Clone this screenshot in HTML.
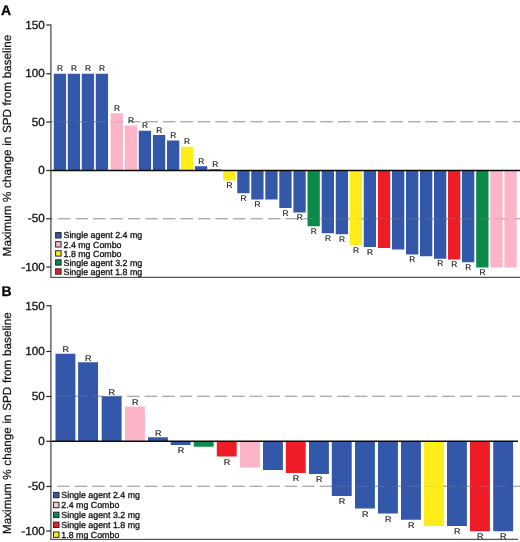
<!DOCTYPE html>
<html><head><meta charset="utf-8"><title>Figure</title>
<style>
html,body{margin:0;padding:0;background:#fff}
svg{display:block}
text{font-family:"Liberation Sans",sans-serif;fill:#111;stroke:#111;stroke-width:0.3px;text-rendering:geometricPrecision}
.r{font-size:8.4px;text-anchor:middle;stroke-width:0.12px}
.rb{font-size:8.3px;letter-spacing:0}
.t{font-size:11.7px;text-anchor:end}
.yl{font-size:11.7px;text-anchor:middle;letter-spacing:0.02px;word-spacing:0.35px;stroke-width:0.22px}
.pl{font-size:14px;font-weight:bold;fill:#000}
.lg{font-size:8.85px}
</style></head><body>
<svg width="520" height="542" viewBox="0 0 520 542">
<rect width="520" height="542" fill="#fff"/>
<g id="A">
<line x1="50.75" x2="520" y1="121.75" y2="121.75" stroke="#999" stroke-width="1" stroke-dasharray="12.5 5" stroke-dashoffset="10.3"/>
<line x1="50.75" x2="520" y1="218.75" y2="218.75" stroke="#999" stroke-width="1" stroke-dasharray="12.5 5" stroke-dashoffset="10.3"/>
<rect x="53.75" y="73.75" width="12.3" height="96.75" fill="#3458a9"/>
<text class="r" x="60.10" y="71.25">R</text>
<rect x="67.75" y="73.75" width="12.3" height="96.75" fill="#3458a9"/>
<text class="r" x="74.10" y="71.25">R</text>
<rect x="81.75" y="73.75" width="12.3" height="96.75" fill="#3458a9"/>
<text class="r" x="88.10" y="71.25">R</text>
<rect x="95.75" y="73.75" width="12.3" height="96.75" fill="#3458a9"/>
<text class="r" x="102.10" y="71.25">R</text>
<rect x="110.60" y="113.25" width="12.3" height="57.25" fill="#fcb4c8"/>
<text class="r" x="116.95" y="110.75">R</text>
<rect x="124.75" y="125.5" width="12.3" height="45.00" fill="#fcb4c8"/>
<text class="r" x="131.10" y="123.00">R</text>
<rect x="138.75" y="130.75" width="12.3" height="39.75" fill="#3458a9"/>
<text class="r" x="145.10" y="128.25">R</text>
<rect x="152.90" y="135" width="12.3" height="35.50" fill="#3458a9"/>
<text class="r" x="159.25" y="132.50">R</text>
<rect x="167.00" y="140.5" width="12.3" height="30.00" fill="#3458a9"/>
<text class="r" x="173.35" y="138.00">R</text>
<rect x="180.80" y="146.75" width="12.3" height="23.75" fill="#ffed1a"/>
<text class="r" x="187.15" y="144.25">R</text>
<rect x="195.00" y="166.25" width="12.3" height="4.25" fill="#3458a9"/>
<text class="r" x="201.35" y="163.75">R</text>
<rect x="209.00" y="169.25" width="12.3" height="1.25" fill="#3458a9"/>
<text class="r" x="215.35" y="166.75">R</text>
<rect x="223.20" y="170.5" width="12.3" height="10.00" fill="#ffed1a"/>
<text class="r" x="229.55" y="188.00">R</text>
<rect x="237.25" y="170.5" width="12.3" height="22.75" fill="#3458a9"/>
<text class="r" x="243.60" y="200.75">R</text>
<rect x="251.25" y="170.5" width="12.3" height="29.00" fill="#3458a9"/>
<text class="r" x="257.60" y="207.00">R</text>
<rect x="265.30" y="170.5" width="12.3" height="29.00" fill="#3458a9"/>
<rect x="279.30" y="170.5" width="12.3" height="37.50" fill="#3458a9"/>
<text class="r" x="285.65" y="215.50">R</text>
<rect x="293.40" y="170.5" width="12.3" height="42.00" fill="#3458a9"/>
<text class="r" x="299.75" y="220.00">R</text>
<rect x="307.50" y="170.5" width="12.3" height="55.75" fill="#0c8a49"/>
<text class="r" x="313.85" y="233.75">R</text>
<rect x="321.70" y="170.5" width="12.3" height="62.75" fill="#3458a9"/>
<text class="r" x="328.05" y="240.75">R</text>
<rect x="335.75" y="170.5" width="12.3" height="63.75" fill="#3458a9"/>
<text class="r" x="342.10" y="241.75">R</text>
<rect x="349.60" y="170.5" width="12.3" height="74.75" fill="#ffed1a"/>
<text class="r" x="355.95" y="252.75">R</text>
<rect x="363.75" y="170.5" width="12.3" height="76.50" fill="#3458a9"/>
<text class="r" x="370.10" y="254.50">R</text>
<rect x="377.90" y="170.5" width="12.3" height="77.50" fill="#ee1c26"/>
<rect x="392.00" y="170.5" width="12.3" height="79.00" fill="#3458a9"/>
<rect x="406.00" y="170.5" width="12.3" height="84.00" fill="#3458a9"/>
<text class="r" x="412.35" y="262.00">R</text>
<rect x="420.00" y="170.5" width="12.3" height="85.75" fill="#3458a9"/>
<rect x="434.00" y="170.5" width="12.3" height="88.25" fill="#3458a9"/>
<text class="r" x="440.35" y="266.25">R</text>
<rect x="448.00" y="170.5" width="12.3" height="89.00" fill="#ee1c26"/>
<text class="r" x="454.35" y="267.00">R</text>
<rect x="462.00" y="170.5" width="12.3" height="91.75" fill="#3458a9"/>
<text class="r" x="468.35" y="269.75">R</text>
<rect x="476.20" y="170.5" width="12.3" height="97.00" fill="#0c8a49"/>
<text class="r" x="482.55" y="275.00">R</text>
<rect x="490.30" y="170.5" width="12.3" height="97.00" fill="#fcb4c8"/>
<rect x="504.40" y="170.5" width="12.3" height="97.00" fill="#fcb4c8"/>
<line x1="50.75" x2="520" y1="121.75" y2="121.75" stroke="#999" stroke-opacity="0.28" stroke-width="1" stroke-dasharray="12.5 5" stroke-dashoffset="10.3"/>
<line x1="50.75" x2="520" y1="218.75" y2="218.75" stroke="#999" stroke-opacity="0.28" stroke-width="1" stroke-dasharray="12.5 5" stroke-dashoffset="10.3"/>
<line x1="50.9" x2="520" y1="170.4" y2="170.4" stroke="#0a0a0a" stroke-width="1.5"/>
<path d="M50.9 24.5V277.3H520" fill="none" stroke="#555" stroke-width="1.35"/>
<line x1="46.25" x2="50.9" y1="25" y2="25" stroke="#2a2a2a" stroke-width="1.2"/>
<text class="t" x="44.7" y="28.50">150</text>
<line x1="46.25" x2="50.9" y1="73.75" y2="73.75" stroke="#2a2a2a" stroke-width="1.2"/>
<text class="t" x="44.7" y="77.25">100</text>
<line x1="46.25" x2="50.9" y1="122" y2="122" stroke="#2a2a2a" stroke-width="1.2"/>
<text class="t" x="44.7" y="125.50">50</text>
<line x1="46.25" x2="50.9" y1="170.5" y2="170.5" stroke="#2a2a2a" stroke-width="1.2"/>
<text class="t" x="44.7" y="174.00">0</text>
<line x1="46.25" x2="50.9" y1="218.75" y2="218.75" stroke="#2a2a2a" stroke-width="1.2"/>
<text class="t" x="44.7" y="222.25">-50</text>
<line x1="46.25" x2="50.9" y1="267" y2="267" stroke="#2a2a2a" stroke-width="1.2"/>
<text class="t" x="44.7" y="270.50">-100</text>
<text class="yl" transform="translate(11.2,145.5) rotate(-90)">Maximum % change in SPD from baseline</text>
<text class="pl" x="0.9" y="15">A</text>
<rect x="52" y="229" width="92" height="47.3" fill="#fff"/>
<rect x="55.6" y="232.60" width="5.5" height="5.4" fill="#3458a9" stroke="#2a2a33" stroke-width="1"/>
<text class="lg" x="63.5" y="238.45">Single agent 2.4 mg</text>
<rect x="55.6" y="241.65" width="5.5" height="5.4" fill="#fcb4c8" stroke="#2a2a33" stroke-width="1"/>
<text class="lg" x="63.5" y="247.50">2.4 mg Combo</text>
<rect x="55.6" y="250.70" width="5.5" height="5.4" fill="#ffed1a" stroke="#2a2a33" stroke-width="1"/>
<text class="lg" x="63.5" y="256.55">1.8 mg Combo</text>
<rect x="55.6" y="259.75" width="5.5" height="5.4" fill="#0c8a49" stroke="#2a2a33" stroke-width="1"/>
<text class="lg" x="63.5" y="265.60">Single agent 3.2 mg</text>
<rect x="55.6" y="268.80" width="5.5" height="5.4" fill="#ee1c26" stroke="#2a2a33" stroke-width="1"/>
<text class="lg" x="63.5" y="274.65">Single agent 1.8 mg</text>
</g>
<g id="B">
<line x1="50.75" x2="520" y1="396.25" y2="396.25" stroke="#999" stroke-width="1" stroke-dasharray="12.5 5" stroke-dashoffset="11.0"/>
<line x1="50.75" x2="520" y1="486.25" y2="486.25" stroke="#999" stroke-width="1" stroke-dasharray="12.5 5" stroke-dashoffset="11.0"/>
<rect x="55.50" y="353.75" width="19.9" height="87.50" fill="#3458a9"/>
<text class="r" transform="translate(65.65 352.15) scale(1.08 1)">R</text>
<rect x="78.10" y="362.25" width="19.9" height="79.00" fill="#3458a9"/>
<text class="r" transform="translate(88.25 360.65) scale(1.08 1)">R</text>
<rect x="101.70" y="396.25" width="19.9" height="45.00" fill="#3458a9"/>
<text class="r" transform="translate(111.85 394.65) scale(1.08 1)">R</text>
<rect x="125.00" y="406.5" width="19.9" height="34.75" fill="#fcb4c8"/>
<text class="r" transform="translate(135.15 404.90) scale(1.08 1)">R</text>
<rect x="148.00" y="437.25" width="19.9" height="4.00" fill="#3458a9"/>
<text class="r" transform="translate(158.15 435.65) scale(1.08 1)">R</text>
<rect x="170.75" y="441.25" width="19.9" height="3.75" fill="#3458a9"/>
<text class="r" transform="translate(180.90 453.10) scale(1.08 1)">R</text>
<rect x="193.75" y="441.25" width="19.9" height="5.50" fill="#0c8a49"/>
<rect x="216.80" y="441.25" width="19.9" height="15.25" fill="#ee1c26"/>
<text class="r" transform="translate(226.95 464.60) scale(1.08 1)">R</text>
<rect x="240.00" y="441.25" width="19.9" height="26.25" fill="#fcb4c8"/>
<rect x="263.00" y="441.25" width="19.9" height="28.75" fill="#3458a9"/>
<rect x="285.80" y="441.25" width="19.9" height="31.75" fill="#ee1c26"/>
<text class="r" transform="translate(295.95 481.10) scale(1.08 1)">R</text>
<rect x="309.00" y="441.25" width="19.9" height="32.75" fill="#3458a9"/>
<text class="r" transform="translate(319.15 482.10) scale(1.08 1)">R</text>
<rect x="331.80" y="441.25" width="19.9" height="54.75" fill="#3458a9"/>
<text class="r" transform="translate(341.95 504.10) scale(1.08 1)">R</text>
<rect x="355.00" y="441.25" width="19.9" height="67.25" fill="#3458a9"/>
<text class="r" transform="translate(365.15 516.60) scale(1.08 1)">R</text>
<rect x="378.00" y="441.25" width="19.9" height="72.25" fill="#3458a9"/>
<text class="r" transform="translate(388.15 521.60) scale(1.08 1)">R</text>
<rect x="401.00" y="441.25" width="19.9" height="78.50" fill="#3458a9"/>
<text class="r" transform="translate(411.15 527.85) scale(1.08 1)">R</text>
<rect x="424.00" y="441.25" width="19.9" height="84.75" fill="#ffed1a"/>
<rect x="447.00" y="441.25" width="19.9" height="84.75" fill="#3458a9"/>
<text class="r" transform="translate(457.15 534.10) scale(1.08 1)">R</text>
<rect x="470.00" y="441.25" width="19.9" height="90.00" fill="#ee1c26"/>
<text class="r" transform="translate(480.15 539.35) scale(1.08 1)">R</text>
<rect x="493.20" y="441.25" width="19.9" height="90.00" fill="#3458a9"/>
<text class="r" transform="translate(503.35 539.35) scale(1.08 1)">R</text>
<line x1="50.75" x2="520" y1="396.25" y2="396.25" stroke="#999" stroke-opacity="0.28" stroke-width="1" stroke-dasharray="12.5 5" stroke-dashoffset="11.0"/>
<line x1="50.75" x2="520" y1="486.25" y2="486.25" stroke="#999" stroke-opacity="0.28" stroke-width="1" stroke-dasharray="12.5 5" stroke-dashoffset="11.0"/>
<line x1="50.9" x2="518" y1="441.25" y2="441.25" stroke="#0a0a0a" stroke-width="1.6"/>
<path d="M50.9 305V539.3H518" fill="none" stroke="#555" stroke-width="1.35"/>
<line x1="46.25" x2="50.9" y1="305.75" y2="305.75" stroke="#2a2a2a" stroke-width="1.2"/>
<text class="t" x="44.7" y="309.55">150</text>
<line x1="46.25" x2="50.9" y1="351.5" y2="351.5" stroke="#2a2a2a" stroke-width="1.2"/>
<text class="t" x="44.7" y="355.30">100</text>
<line x1="46.25" x2="50.9" y1="396.5" y2="396.5" stroke="#2a2a2a" stroke-width="1.2"/>
<text class="t" x="44.7" y="400.30">50</text>
<line x1="46.25" x2="50.9" y1="441.25" y2="441.25" stroke="#2a2a2a" stroke-width="1.2"/>
<text class="t" x="44.7" y="445.05">0</text>
<line x1="46.25" x2="50.9" y1="486.5" y2="486.5" stroke="#2a2a2a" stroke-width="1.2"/>
<text class="t" x="44.7" y="490.30">-50</text>
<line x1="46.25" x2="50.9" y1="531" y2="531" stroke="#2a2a2a" stroke-width="1.2"/>
<text class="t" x="44.7" y="534.80">-100</text>
<text class="yl" transform="translate(11.2,423.2) rotate(-90)">Maximum % change in SPD from baseline</text>
<text class="pl" x="1.6" y="296.1">B</text>
<rect x="52" y="489" width="92" height="49.3" fill="#fff"/>
<rect x="53.5" y="492.40" width="5.5" height="5.4" fill="#3458a9" stroke="#2a2a33" stroke-width="1"/>
<text class="lg" x="61.3" y="498.25">Single agent 2.4 mg</text>
<rect x="53.5" y="502.30" width="5.5" height="5.4" fill="#f7cdd3" stroke="#2a2a33" stroke-width="1"/>
<text class="lg" x="61.3" y="508.15">2.4 mg Combo</text>
<rect x="53.5" y="512.20" width="5.5" height="5.4" fill="#0c8a49" stroke="#2a2a33" stroke-width="1"/>
<text class="lg" x="61.3" y="518.05">Single agent 3.2 mg</text>
<rect x="53.5" y="522.10" width="5.5" height="5.4" fill="#ee1c26" stroke="#2a2a33" stroke-width="1"/>
<text class="lg" x="61.3" y="527.95">Single agent 1.8 mg</text>
<rect x="53.5" y="532.00" width="5.5" height="5.4" fill="#ffed1a" stroke="#2a2a33" stroke-width="1"/>
<text class="lg" x="61.3" y="537.85">1.8 mg Combo</text>
</g>
</svg>
</body></html>
